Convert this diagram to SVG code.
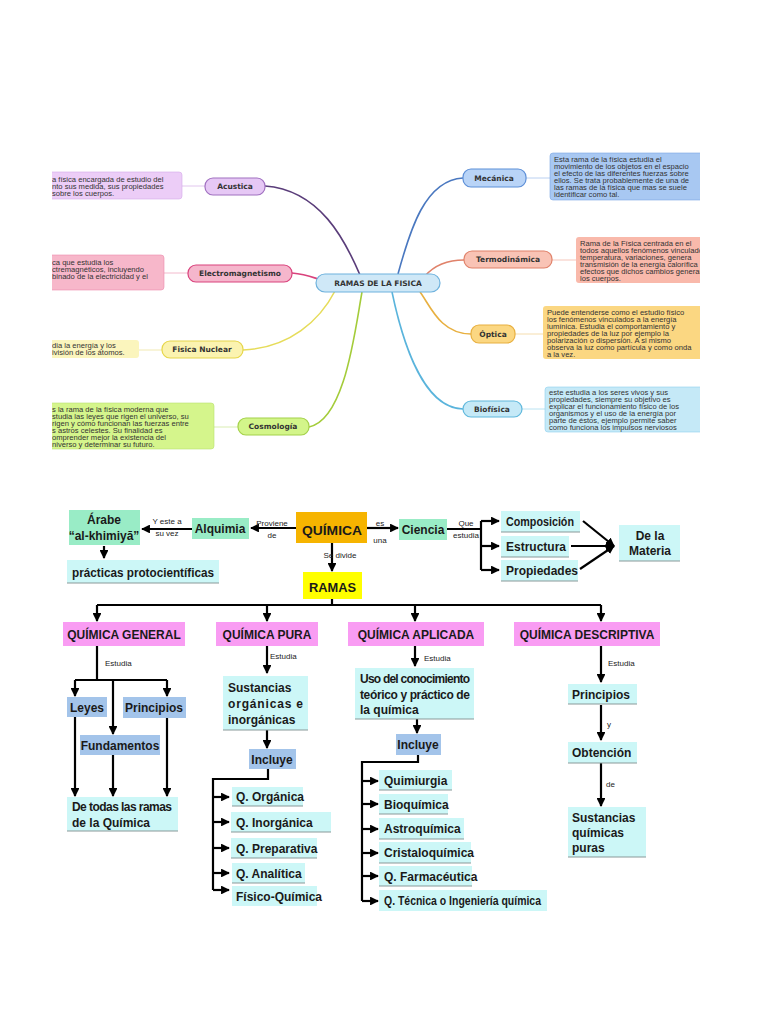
<svg xmlns="http://www.w3.org/2000/svg" width="768" height="1024" viewBox="0 0 768 1024">
<style>
.pill{stroke-width:1.2}
.d{font-family:"Liberation Sans",Arial,sans-serif;font-size:7.6px;fill:#333}
.pt{font-family:"DejaVu Sans",sans-serif;font-size:7.5px;font-weight:bold;fill:#333;text-anchor:middle}
.br{fill:none;stroke-width:1.6}
.b{font-family:"Liberation Sans",Arial,sans-serif;font-weight:bold;fill:#1a1a1a;font-size:12px}
.s{font-family:"Liberation Sans",Arial,sans-serif;font-size:8px;fill:#222}
.mint{fill:#99ecc6}.cy{fill:#ccf7f7}.bl{fill:#a3c4ea}.pk{fill:#f99cf3}
.ln{fill:none;stroke:#000;stroke-width:2.2}
.sh{stroke:#8a9a9a;stroke-width:1.2}
</style>
<defs>
<marker id="a" viewBox="0 0 10 10" refX="9" refY="5" markerWidth="4" markerHeight="4" orient="auto"><path d="M0,0L10,5L0,10z" fill="#000"/></marker>
<clipPath id="cl"><rect x="52" y="0" width="648" height="1024"/></clipPath>
</defs>
<rect width="768" height="1024" fill="#fff"/>

<g id="connectors-top" class="br">
<path d="M265,186 C320,190 345,240 360,275" stroke="#5a3d7a"/>
<path d="M292,273 C305,274 312,277 318,279" stroke="#d9427c"/>
<path d="M243,350 C290,348 320,320 335,291" stroke="#e6dc5a"/>
<path d="M309,427 C345,420 355,330 362,292" stroke="#a4cc3a"/>
<path d="M463,178 C425,180 410,230 398,274" stroke="#4a78c0"/>
<path d="M464,260 C445,260 432,268 425,276" stroke="#e0826a"/>
<path d="M471,334 C440,334 430,305 420,292" stroke="#e8b040"/>
<path d="M463,409 C420,408 400,330 392,292" stroke="#5ab4dc"/>
<g stroke-width="0.8">
<path d="M182,186H205" stroke="#d9b8ea"/><path d="M164,273H188" stroke="#f0a8c0"/>
<path d="M139,350H162" stroke="#eee3a0"/><path d="M214,427H238" stroke="#cfe8a0"/>
<path d="M526,178H550" stroke="#a8c4ee"/><path d="M552,260H576" stroke="#f2b8aa"/>
<path d="M515,334H543" stroke="#f3d49a"/><path d="M522,409H545" stroke="#a8dcef"/>
</g>
</g>

<g clip-path="url(#cl)">
<g id="desc-acustica"><rect x="40" y="172" width="142" height="27" rx="3" fill="#eccdf7" stroke="#d5a8ea" stroke-width=".6"/>
<text class="d" x="52" y="182">a física encargada de estudio del</text><text class="d" x="52" y="189">nto sus medida, sus propiedades</text><text class="d" x="52" y="196">sobre los cuerpos.</text></g>
<g id="desc-electro"><rect x="40" y="255" width="124" height="35" rx="3" fill="#f7b7ca" stroke="#ec8aac" stroke-width=".6"/>
<text class="d" x="52" y="265">ca que estudia los</text><text class="d" x="52" y="272">ctremagnéticos, incluyendo</text><text class="d" x="52" y="279">binado de la electricidad y el</text></g>
<g id="desc-nuclear"><rect x="40" y="340" width="99" height="18" rx="3" fill="#fbf5bd"/>
<text class="d" x="52" y="348">dia la energía y los</text><text class="d" x="52" y="355">ivisión de los átomos.</text></g>
<g id="desc-cosmo"><rect x="40" y="403" width="174" height="46" rx="3" fill="#d5f58c" stroke="#b8e070" stroke-width=".6"/>
<text class="d" x="52" y="412">s la rama de la física moderna que</text><text class="d" x="52" y="419">studia las leyes que rigen el universo, su</text><text class="d" x="52" y="426">rigen y cómo funcionan las fuerzas entre</text><text class="d" x="52" y="433">s astros celestes. Su finalidad es</text><text class="d" x="52" y="440">omprender mejor la existencia del</text><text class="d" x="52" y="447">niverso y determinar su futuro.</text></g>
<g id="desc-mecanica"><rect x="550" y="153" width="160" height="47" rx="3" fill="#a8c8f2" stroke="#7aa6e2" stroke-width=".6"/>
<text class="d" x="554" y="162">Esta rama de la física estudia el</text><text class="d" x="554" y="169">movimiento de los objetos en el espacio</text><text class="d" x="554" y="176">el efecto de las diferentes fuerzas sobre</text><text class="d" x="554" y="183">ellos. Se trata probablemente de una de</text><text class="d" x="554" y="190">las ramas de la física que mas se suele</text><text class="d" x="554" y="197">identificar como tal.</text></g>
<g id="desc-termo"><rect x="576" y="237" width="134" height="46" rx="3" fill="#f9b9ab"/>
<text class="d" x="580" y="246">Rama de la Física centrada en el</text><text class="d" x="580" y="253">todos aquellos fenómenos vinculados</text><text class="d" x="580" y="260">temperatura, variaciones, genera</text><text class="d" x="580" y="267">transmisión de la energía calorífica</text><text class="d" x="580" y="274">efectos que dichos cambios generan</text><text class="d" x="580" y="281">los cuerpos.</text></g>
<g id="desc-optica"><rect x="543" y="306" width="167" height="53" rx="3" fill="#fbd782"/>
<text class="d" x="547" y="315">Puede entenderse como el estudio físico</text><text class="d" x="547" y="322">los fenómenos vinculados a la energía</text><text class="d" x="547" y="329">lumínica. Estudia el comportamiento y</text><text class="d" x="547" y="336">propiedades de la luz por ejemplo la</text><text class="d" x="547" y="343">polarización o dispersión. A si mismo</text><text class="d" x="547" y="350">observa la luz como partícula y como onda</text><text class="d" x="547" y="357">a la vez.</text></g>
<g id="desc-biofisica"><rect x="545" y="387" width="165" height="45" rx="3" fill="#c5e9f7" stroke="#8ed0ee" stroke-width=".6"/>
<text class="d" x="549" y="395">este estudia a los seres vivos y sus</text><text class="d" x="549" y="402">propiedades, siempre su objetivo es</text><text class="d" x="549" y="409">explicar el funcionamiento físico de los</text><text class="d" x="549" y="416">organismos y  el uso de la energía por</text><text class="d" x="549" y="423">parte de éstos, ejemplo permite saber</text><text class="d" x="549" y="430">como funciona los impulsos nerviosos</text></g>
</g>

<g id="center"><rect class="pill" x="316" y="274" width="124" height="18" rx="9" fill="#cfe8f7" stroke="#6fb2dd"/><text class="pt" x="378" y="286">RAMAS DE LA FISICA</text></g>
<g id="acustica"><rect class="pill" x="205" y="178" width="60" height="17" rx="8" fill="#e6c8f5" stroke="#a070c0"/><text class="pt" x="235" y="189">Acustica</text></g>
<g id="electro"><rect class="pill" x="188" y="265" width="104" height="17" rx="8" fill="#f5b6cc" stroke="#d9427c"/><text class="pt" x="240" y="276">Electromagnetismo</text></g>
<g id="nuclear"><rect class="pill" x="162" y="341" width="81" height="17" rx="8" fill="#fbf3b0" stroke="#e6d64a"/><text class="pt" x="202" y="352">Fisica Nuclear</text></g>
<g id="cosmo"><rect class="pill" x="238" y="418" width="71" height="17" rx="8" fill="#d3f58a" stroke="#a4d14a"/><text class="pt" x="273" y="429">Cosmología</text></g>
<g id="mecanica"><rect class="pill" x="463" y="169" width="63" height="18" rx="8" fill="#b9d4f7" stroke="#5d8fd7"/><text class="pt" x="494" y="181">Mecánica</text></g>
<g id="termo"><rect class="pill" x="464" y="251" width="88" height="17" rx="8" fill="#f9c3b5" stroke="#e0826a"/><text class="pt" x="508" y="262">Termodinámica</text></g>
<g id="optica"><rect class="pill" x="471" y="325" width="44" height="18" rx="8" fill="#fbd782" stroke="#e8b040"/><text class="pt" x="493" y="337">Óptica</text></g>
<g id="biofisica"><rect class="pill" x="463" y="401" width="59" height="16" rx="8" fill="#c5e9f7" stroke="#60b8dc"/><text class="pt" x="492" y="412">Biofísica</text></g>

<g id="connectors" class="ln">
<path d="M192,529H142" marker-end="url(#a)"/>
<path d="M296,528H251" marker-end="url(#a)"/>
<path d="M367,528H398" marker-end="url(#a)"/>
<path d="M104,546V558" marker-end="url(#a)"/>
<path d="M332,543V571" marker-end="url(#a)"/>
<path d="M447,529H481"/><path d="M481,521V570"/>
<path d="M481,521H499" marker-end="url(#a)"/><path d="M481,546H499" marker-end="url(#a)"/><path d="M481,570H499" marker-end="url(#a)"/>
<path d="M583,521L614,546" marker-end="url(#a)"/><path d="M571,546H614" marker-end="url(#a)"/><path d="M580,569L614,546" marker-end="url(#a)"/>
<path d="M332,599V605M97,605H601"/>
<path d="M97,605V621" marker-end="url(#a)"/><path d="M267,605V621" marker-end="url(#a)"/><path d="M415,605V621" marker-end="url(#a)"/><path d="M601,605V621" marker-end="url(#a)"/>
<path d="M97,646V680M75,680H167"/>
<path d="M75,680V696" marker-end="url(#a)"/><path d="M167,680V696" marker-end="url(#a)"/><path d="M113,680V734" marker-end="url(#a)"/>
<path d="M75,717V796" marker-end="url(#a)"/><path d="M113,755V796" marker-end="url(#a)"/><path d="M167,718V796" marker-end="url(#a)"/>
<path d="M267,646V673" marker-end="url(#a)"/><path d="M267,730V748" marker-end="url(#a)"/>
<path d="M268,769V779H213V890"/>
<path d="M213,797H229" marker-end="url(#a)"/><path d="M213,822H229" marker-end="url(#a)"/><path d="M213,848H229" marker-end="url(#a)"/><path d="M213,873H229" marker-end="url(#a)"/><path d="M213,890H229" marker-end="url(#a)"/>
<path d="M415,646V666" marker-end="url(#a)"/><path d="M417,719V733" marker-end="url(#a)"/>
<path d="M418,755V762H362V901"/>
<path d="M362,781H378" marker-end="url(#a)"/><path d="M362,804H378" marker-end="url(#a)"/><path d="M362,829H378" marker-end="url(#a)"/><path d="M362,853H378" marker-end="url(#a)"/><path d="M362,876H378" marker-end="url(#a)"/><path d="M362,901H378" marker-end="url(#a)"/>
<path d="M601,646V682" marker-end="url(#a)"/><path d="M601,705V740" marker-end="url(#a)"/><path d="M601,763V806" marker-end="url(#a)"/>
</g>
<g id="labels">
<text class="s" x="167" y="524" text-anchor="middle">Y este a</text><text class="s" x="167" y="536" text-anchor="middle">su vez</text>
<text class="s" x="272" y="526" text-anchor="middle">Proviene</text><text class="s" x="272" y="538" text-anchor="middle">de</text>
<text class="s" x="380" y="526" text-anchor="middle">es</text><text class="s" x="380" y="543" text-anchor="middle">una</text>
<text class="s" x="466" y="526" text-anchor="middle">Que</text><text class="s" x="466" y="538" text-anchor="middle">estudia</text>
<text class="s" x="340" y="558" text-anchor="middle">Se divide</text>
<text class="s" x="105" y="666">Estudia</text><text class="s" x="270" y="659">Estudia</text><text class="s" x="424" y="661">Estudia</text><text class="s" x="608" y="666">Estudia</text>
<text class="s" x="607" y="727">y</text><text class="s" x="606" y="787">de</text>
</g>

<g id="arabe"><rect class="mint" x="69" y="510" width="71" height="35"/><text class="b" x="104" y="524" text-anchor="middle">Árabe</text><text class="b" x="104" y="540" text-anchor="middle">“al-khimiyā”</text></g>
<g id="practicas"><rect class="cy" x="67" y="560" width="152" height="23"/><path class="sh" d="M67,583H219"/><text class="b" x="72" y="577" font-size="13" textLength="142" lengthAdjust="spacingAndGlyphs">prácticas protocientíficas</text></g>
<g id="alquimia"><rect class="mint" x="192" y="518" width="57" height="21"/><text class="b" x="220" y="533" text-anchor="middle">Alquimia</text></g>
<g id="quimica"><rect x="296" y="512" width="71" height="31" fill="#f6b400"/><text class="b" x="302" y="535" font-size="18" font-weight="normal" textLength="60" lengthAdjust="spacingAndGlyphs">QUÍMICA</text></g>
<g id="ciencia"><rect class="mint" x="399" y="519" width="48" height="21"/><text class="b" x="423" y="534" text-anchor="middle">Ciencia</text></g>
<g id="composicion"><rect class="cy" x="501" y="511" width="79" height="21"/><path class="sh" d="M501,532H580"/><text class="b" x="506" y="526" textLength="68" lengthAdjust="spacingAndGlyphs">Composición</text></g>
<g id="estructura"><rect class="cy" x="501" y="536" width="68" height="21"/><path class="sh" d="M501,557H569"/><text class="b" x="506" y="551">Estructura</text></g>
<g id="propiedades"><rect class="cy" x="501" y="560" width="77" height="21"/><path class="sh" d="M501,581H578"/><text class="b" x="506" y="575">Propiedades</text></g>
<g id="materia"><rect class="cy" x="619" y="525" width="61" height="36"/><path class="sh" d="M619,561H680"/><text class="b" x="650" y="540" text-anchor="middle">De la</text><text class="b" x="650" y="555" text-anchor="middle">Materia</text></g>
<g id="ramas"><rect x="303" y="572" width="59" height="27" fill="#ffff00"/><text class="b" x="309" y="592" font-size="17" font-weight="normal" textLength="47" lengthAdjust="spacingAndGlyphs">RAMAS</text></g>

<g id="general"><rect class="pk" x="63" y="622" width="122" height="24"/><text class="b" x="124" y="639" text-anchor="middle">QUÍMICA GENERAL</text></g>
<g id="pura"><rect class="pk" x="216" y="622" width="102" height="24"/><text class="b" x="267" y="639" text-anchor="middle">QUÍMICA PURA</text></g>
<g id="aplicada"><rect class="pk" x="348" y="622" width="136" height="24"/><text class="b" x="416" y="639" text-anchor="middle">QUÍMICA APLICADA</text></g>
<g id="descriptiva"><rect class="pk" x="514" y="622" width="146" height="24"/><text class="b" x="587" y="639" text-anchor="middle">QUÍMICA DESCRIPTIVA</text></g>

<g id="leyes"><rect class="bl" x="67" y="697" width="40" height="20"/><text class="b" x="87" y="712" text-anchor="middle">Leyes</text></g>
<g id="principios1"><rect class="bl" x="123" y="697" width="63" height="21"/><text class="b" x="154" y="712" text-anchor="middle">Principios</text></g>
<g id="fundamentos"><rect class="bl" x="80" y="735" width="80" height="20"/><text class="b" x="120" y="750" text-anchor="middle">Fundamentos</text></g>
<g id="detodas"><rect class="cy" x="67" y="797" width="111" height="34"/><path class="sh" d="M67,831H178"/><text class="b" x="72" y="811" textLength="100">De todas las ramas</text><text class="b" x="72" y="827">de la Química</text></g>

<g id="sustancias"><rect class="cy" x="223" y="676" width="85" height="54"/><path class="sh" d="M223,730H308"/><text class="b" x="228" y="692" font-size="13">Sustancias</text><text class="b" x="228" y="708" font-size="13" textLength="75">orgánicas e</text><text class="b" x="228" y="724" font-size="13">inorgánicas</text></g>
<g id="incluye1"><rect class="bl" x="249" y="749" width="47" height="20"/><text class="b" x="272" y="764" text-anchor="middle">Incluye</text></g>
<g id="organica"><rect class="cy" x="232" y="787" width="71" height="19"/><path class="sh" d="M232,806H303"/><text class="b" x="236" y="801">Q. Orgánica</text></g>
<g id="inorganica"><rect class="cy" x="231" y="812" width="100" height="20"/><path class="sh" d="M231,832H331"/><text class="b" x="236" y="827">Q. Inorgánica</text></g>
<g id="preparativa"><rect class="cy" x="231" y="838" width="86" height="20"/><path class="sh" d="M231,858H317"/><text class="b" x="236" y="853">Q. Preparativa</text></g>
<g id="analitica"><rect class="cy" x="232" y="863" width="73" height="20"/><path class="sh" d="M232,883H305"/><text class="b" x="236" y="878">Q. Analítica</text></g>
<g id="fisicoquimica"><rect class="cy" x="232" y="886" width="85" height="20"/><text class="b" x="236" y="901">Físico-Química</text></g>

<g id="uso"><rect class="cy" x="355" y="668" width="119" height="51"/><path class="sh" d="M355,719H474"/><text class="b" x="360" y="683" textLength="110">Uso del conocimiento</text><text class="b" x="360" y="699" textLength="110">teórico y práctico de</text><text class="b" x="360" y="714">la química</text></g>
<g id="incluye2"><rect class="bl" x="396" y="734" width="45" height="21"/><text class="b" x="418" y="749" text-anchor="middle">Incluye</text></g>
<g id="quimiurgia"><rect class="cy" x="379" y="770" width="73" height="20"/><path class="sh" d="M379,790H452"/><text class="b" x="384" y="785">Quimiurgia</text></g>
<g id="bioquimica"><rect class="cy" x="379" y="794" width="69" height="20"/><path class="sh" d="M379,814H448"/><text class="b" x="384" y="809">Bioquímica</text></g>
<g id="astroquimica"><rect class="cy" x="379" y="818" width="85" height="21"/><path class="sh" d="M379,839H464"/><text class="b" x="384" y="833">Astroquímica</text></g>
<g id="cristaloquimica"><rect class="cy" x="379" y="842" width="92" height="21"/><path class="sh" d="M379,863H471"/><text class="b" x="384" y="857">Cristaloquímica</text></g>
<g id="farmaceutica"><rect class="cy" x="379" y="866" width="93" height="20"/><path class="sh" d="M379,886H472"/><text class="b" x="384" y="881">Q. Farmacéutica</text></g>
<g id="tecnica"><rect class="cy" x="379" y="890" width="168" height="21"/><text class="b" x="384" y="905" textLength="157" lengthAdjust="spacingAndGlyphs">Q. Técnica o Ingeniería química</text></g>

<g id="principios2"><rect class="cy" x="568" y="684" width="69" height="20"/><path class="sh" d="M568,704H637"/><text class="b" x="572" y="699">Principios</text></g>
<g id="obtencion"><rect class="cy" x="568" y="742" width="69" height="21"/><path class="sh" d="M568,763H637"/><text class="b" x="572" y="757">Obtención</text></g>
<g id="puras"><rect class="cy" x="568" y="807" width="78" height="50"/><path class="sh" d="M568,857H646"/><text class="b" x="572" y="822">Sustancias</text><text class="b" x="572" y="837">químicas</text><text class="b" x="572" y="852">puras</text></g>
</svg>
